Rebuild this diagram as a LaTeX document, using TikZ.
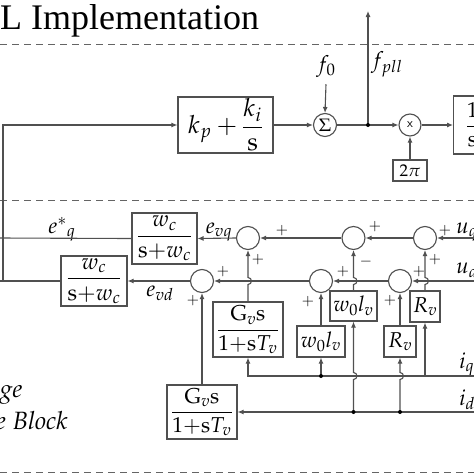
\documentclass[tikz,border=0pt]{standalone}
\usepackage{mathpazo}
\usepackage[no-math]{fontspec}
\newfontfamily\timesf{Liberation Serif}
\usetikzlibrary{arrows.meta,calc}
\definecolor{lc}{RGB}{80,80,80}
\definecolor{dc}{RGB}{100,100,100}
\tikzset{
  box/.style={draw=lc, line width=1.1pt, inner sep=0pt, font=\fontsize{21.5}{24}\selectfont},
  bigbox/.style={box, font=\fontsize{22.5}{25}\selectfont},
  sumc/.style={circle, draw=lc, line width=1.1pt, minimum size=23pt, inner sep=0pt},
  arr/.style={draw=lc, line width=1.1pt, -{Latex[length=6pt,width=5pt]}},
  ln/.style={draw=lc, line width=1.1pt},
  dsh/.style={draw=dc, line width=1pt, dash pattern=on 7pt off 5pt},
  sgn/.style={font=\fontsize{15}{15}\selectfont, inner sep=0pt},
  lbl/.style={font=\fontsize{22}{24}\selectfont, inner sep=0pt},
  dotc/.style={fill=black, circle, minimum size=4pt, inner sep=0pt}
}
\begin{document}
\begin{tikzpicture}[x=1pt,y=-1pt]
\clip (0,0) rectangle (474,474);
\fill[white] (0,0) rectangle (474,474);
% title and side text
\node[anchor=base west, inner sep=0pt, font=\timesf\fontsize{36}{40}\selectfont] (title) at (0,29) {L Implementation};
\node[anchor=base west, inner sep=0pt, font=\fontsize{25}{27}\selectfont] (sideA) at (0,397) {$\mathit{ge}$};
\node[anchor=base west, inner sep=0pt, font=\fontsize{25}{27}\selectfont] (sideB) at (-4,429) {$\mathit{e}\;\mathit{Block}$};
% dashed separators
\draw[dsh] (0,44) -- (474,44);
\draw[dsh] (0,200) -- (474,200);
\draw[dsh] (0,472) -- (474,472);
% ---- PLL part ----
\node[box, minimum width=95pt, minimum height=56pt, font=\fontsize{25}{27}\selectfont] (pi) at (225.5,125) {$\displaystyle k_p+\frac{k_i}{\mathrm{s}}$};
\node[sumc] (sig) at (325,125) {\fontsize{18}{18}\selectfont$\Sigma$};
\node[lbl] (f0) at (326,67) {$f_0$};
\coordinate (jd) at (368,125);
\coordinate (ftop) at (368,11);
\node[lbl] (fpll) at (387,64) {$f_{pll}$};
\node[sumc, minimum size=22pt] (mul) at (410,125) {\fontsize{13}{13}\sffamily x};
\node[box, minimum width=34pt, minimum height=21pt, font=\fontsize{17}{17}\selectfont] (tp) at (410,170.5) {$2\pi$};
\node[box, minimum width=38pt, minimum height=58pt, anchor=west] (integ) at (453,125) {$\displaystyle\frac{1}{\mathrm{s}}$};
\draw[arr] (pi.east) -- (sig.west);
\draw[arr] ([yshift=-6pt]f0.south) -- (sig.north);
\draw[ln] (sig.east) -- (jd);
\draw[arr] (jd) -- (ftop);
\draw[arr] (jd) -- (mul.west);
\draw[arr] (tp.north) -- (mul.south);
\draw[arr] (mul.east) -- (integ.west);
\node[dotc] at (jd) {};
% ---- voltage feedforward part ----
\node[bigbox, minimum width=65pt, minimum height=51pt] (wcq) at (164.5,238.5) {$\displaystyle\frac{w_c}{\mathrm{s}{+}w_c}$};
\node[bigbox, minimum width=66pt, minimum height=50pt] (wcd) at (94,281) {$\displaystyle\frac{w_c}{\mathrm{s}{+}w_c}$};
\node[sumc] (c1) at (248,238) {};
\node[sumc] (c2) at (353.5,238) {};
\node[sumc] (c3) at (425,238) {};
\node[sumc] (d1) at (202,281) {};
\node[sumc] (d2) at (321,281) {};
\node[sumc] (d3) at (400,281) {};
\node[box, minimum width=70pt, minimum height=55pt] (gvq) at (248,329.5) {$\displaystyle\frac{\mathrm{G}_v\mathrm{s}}{1{+}\mathrm{s}T_v}$};
\node[box, minimum width=47pt, minimum height=30pt] (wlq) at (353.5,306) {$w_0l_v$};
\node[box, minimum width=30pt, minimum height=31pt] (rq) at (425,306.5) {$R_v$};
\node[box, minimum width=70pt, minimum height=54pt] (gvd) at (202,412) {$\displaystyle\frac{\mathrm{G}_v\mathrm{s}}{1{+}\mathrm{s}T_v}$};
\node[box, minimum width=48pt, minimum height=31pt] (wld) at (321,341.5) {$w_0l_v$};
\node[box, minimum width=32pt, minimum height=31pt] (rd) at (400,341.5) {$R_v$};
% labels
\node[lbl, anchor=base] (eq) at (62,233) {$e^{*}{}_{q}$};
\node[lbl, anchor=base] (evq) at (219,233) {$e_{vq}$};
\node[lbl, anchor=base] (evd) at (160,296) {$e_{vd}$};
\node[lbl, anchor=base west] (uql) at (456,233) {$u_q$};
\node[lbl, anchor=base west] (udl) at (456,273) {$u_d$};
\node[lbl, anchor=base west] (iql) at (459,368) {$i_q$};
\node[lbl, anchor=base west] (idl) at (459,405) {$i_d$};
% signs
\node[sgn] (s1) at (282,231) {$+$};
\node[sgn] (s2) at (258,260) {$+$};
\node[sgn] (s3) at (375,227) {$+$};
\node[sgn] (s4) at (366,262) {$-$};
\node[sgn] (s5) at (445,231) {$+$};
\node[sgn] (s6) at (435,260) {$+$};
\node[sgn] (s7) at (223,272) {$+$};
\node[sgn] (s8) at (193,301) {$+$};
\node[sgn] (s9) at (343,272) {$+$};
\node[sgn] (s10) at (308,302) {$+$};
\node[sgn] (s11) at (419,272) {$+$};
\node[sgn] (s12) at (390,301) {$+$};
% left loop
\coordinate (qend) at (-2,238);
\coordinate (dend) at (-2,281);
\coordinate (lb) at (3,281);
\coordinate (lt) at (3,125);
\draw[ln] (wcq.west) -- (qend);
\draw[ln] (wcd.west) -- (dend);
\draw[arr] (lb) -- (lt) -- (pi.west);
% q row
\coordinate (uq) at (478,238);
\draw[arr] (uq) -- (c3.east);
\draw[arr] (c3.west) -- (c2.east);
\draw[arr] (c2.west) -- (c1.east);
\draw[arr] (c1.west) -- (wcq.east);
% d row
\coordinate (ud) at (478,281);
\draw[arr] (ud) -- (d3.east);
\draw[arr] (d3.west) -- (d2.east);
\draw[arr] (d2.west) -- (d1.east);
\draw[arr] (d1.west) -- (wcd.east);
% bridges
\coordinate (b1) at (248,281);
\coordinate (b2) at (353.5,281);
\coordinate (b3) at (425,281);
\coordinate (b4) at (353.5,376);
\coordinate (b5) at (400,376);
\draw[arr] (gvq.north) -- ($(b1)+(0,3.5)$) .. controls ($(b1)+(4.5,3.5)$) and ($(b1)+(4.5,-3.5)$) .. ($(b1)+(0,-3.5)$) -- (c1.south);
\draw[arr] (wlq.north) -- ($(b2)+(0,3.5)$) .. controls ($(b2)+(4.5,3.5)$) and ($(b2)+(4.5,-3.5)$) .. ($(b2)+(0,-3.5)$) -- (c2.south);
\draw[arr] (rq.north) -- ($(b3)+(0,3.5)$) .. controls ($(b3)+(4.5,3.5)$) and ($(b3)+(4.5,-3.5)$) .. ($(b3)+(0,-3.5)$) -- (c3.south);
\draw[arr] (gvd.north) -- (d1.south);
\draw[arr] (wld.north) -- (d2.south);
\draw[arr] (rd.north) -- (d3.south);
% current lines
\coordinate (iq) at (478,376);
\coordinate (id) at (478,412);
\coordinate (j1) at (321,376);
\coordinate (j2) at (425,376);
\coordinate (k1) at (353.5,412);
\coordinate (k2) at (400,412);
\draw[arr] (iq) -| (gvq.south);
\draw[arr] (j1) -- (wld.south);
\draw[arr] (j2) -- (rq.south);
\draw[arr] (id) -- (gvd.east);
\draw[arr] (k1) -- ($(b4)+(0,3.5)$) .. controls ($(b4)+(4.5,3.5)$) and ($(b4)+(4.5,-3.5)$) .. ($(b4)+(0,-3.5)$) -- (wlq.south);
\draw[arr] (k2) -- ($(b5)+(0,3.5)$) .. controls ($(b5)+(4.5,3.5)$) and ($(b5)+(4.5,-3.5)$) .. ($(b5)+(0,-3.5)$) -- (rd.south);
\node[dotc] at (j1) {};
\node[dotc] at (k1) {};
\node[dotc] at (k2) {};
\end{tikzpicture}
\end{document}
